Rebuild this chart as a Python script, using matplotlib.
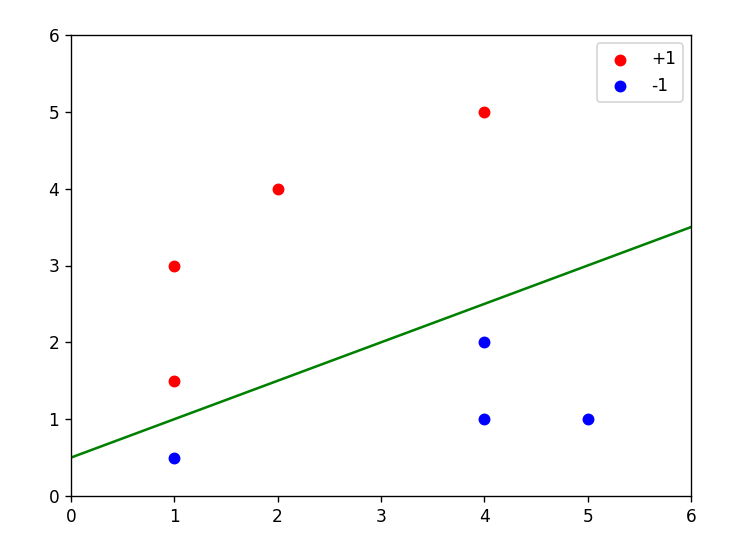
import matplotlib
matplotlib.use("Agg")
import matplotlib.pyplot as plt
import numpy as np

# class +1 points
pos_x = [1, 1, 2, 4]
pos_y = [3, 1.5, 4, 5]
# class -1 points
neg_x = [1, 4, 4, 5]
neg_y = [0.5, 2, 1, 1]

# separating line y = slope * x + intercept
slope = 0.5
intercept = 0.5
line_x = np.array([0, 6])

dpi = 122
fig = plt.figure(figsize=(740 / dpi, 546 / dpi), dpi=dpi)
ax = fig.add_axes([71 / 740, 1 - 496 / 546, 620 / 740, 461 / 546])

ax.scatter(pos_x, pos_y, color="red", label="+1")
ax.scatter(neg_x, neg_y, color="blue", label="-1")
ax.plot(line_x, slope * line_x + intercept, color="g")

ax.set_xlim(0, 6)
ax.set_ylim(0, 6)
ax.legend(loc="upper right")

fig.savefig("out.png", dpi=dpi)
